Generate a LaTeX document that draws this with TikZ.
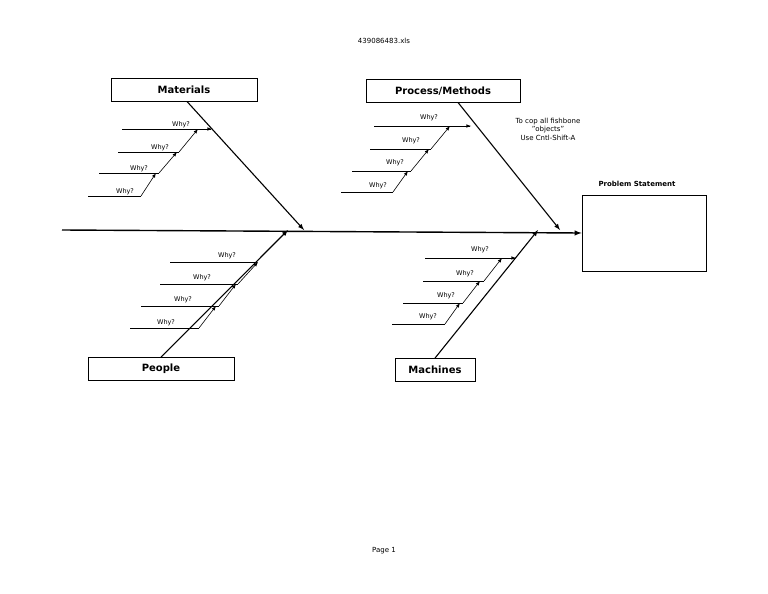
\documentclass[tikz,border=0pt]{standalone}
\usepackage{fontspec}
\setmainfont{DejaVu Sans}
\begin{document}
\begin{tikzpicture}[x=1pt,y=-1pt,
  box/.style={draw,line width=0.8pt,minimum height=23pt,font=\fontsize{10}{12}\selectfont\bfseries,inner sep=0pt},
  bone/.style={line width=1.1pt,-latex},
  why/.style={line width=0.6pt},
  wa/.style={line width=0.6pt,-latex},
  wt/.style={font=\fontsize{6.5}{8}\selectfont,anchor=south,inner sep=1pt}]
\useasboundingbox (0,0) rectangle (768,594);
\node[font=\fontsize{7}{9}\selectfont] (title) at (384,41) {439086483.xls};
\node[font=\fontsize{7}{9}\selectfont] (page) at (384,551) {Page 1};
% spine
\coordinate (s0) at (62,230);
\node[draw,line width=0.8pt,minimum width=124pt,minimum height=76pt] (ps) at (644,233) {};
\node[font=\fontsize{7}{9}\selectfont\bfseries] (pst) at (637,184) {Problem Statement};
\draw[line width=1.4pt,-latex] (s0) -- (ps.west);
\node[font=\fontsize{7}{8.5}\selectfont,align=center] (note) at (548,129) {To cop all fishbone\\"objects"\\Use Cntl-Shift-A};
% boxes
\node[box,minimum width=146pt] (mat) at (184,90) {Materials};
\node[box,minimum width=154pt] (proc) at (443,91) {Process/Methods};
\node[box,minimum width=146pt] (peo) at (161,369) {People};
\node[box,minimum width=80pt] (mac) at (435,370) {Machines};
\coordinate (mj) at (304,230); \coordinate (pj) at (560,230);
\coordinate (ej) at (288,230); \coordinate (cj) at (538,230);
\draw[bone] (187,101.5) -- (mj);
\draw[bone] (458,102.5) -- (pj);
\draw[bone] (peo.north) -- (ej);
\draw[bone] (mac.north) -- (cj);
% Materials whys
\draw[why] (122,129) -- (211,129); \draw[why] (118,152) -- (179,152);
\draw[why] (99,173) -- (159,173); \draw[why] (88,196) -- (141,196);
\draw[wa] (141,196) -- (156,173); \draw[wa] (159,173) -- (177,152); \draw[wa] (179,152) -- (198,129);
\draw[-latex,line width=0.6pt] (200,129) -- (212,129);
\node[wt] at (181,129) {Why?}; \node[wt] at (160,152) {Why?};
\node[wt] at (139,173) {Why?}; \node[wt] at (125,196) {Why?};
% Process whys
\draw[why] (374,126) -- (470,126); \draw[why] (370,149) -- (431,149);
\draw[why] (352,171) -- (411,171); \draw[why] (341,192) -- (393,192);
\draw[wa] (393,192) -- (408,171); \draw[wa] (411,171) -- (429,149); \draw[wa] (431,149) -- (450,126);
\draw[-latex,line width=0.6pt] (455,126) -- (471,126);
\node[wt] at (429,122) {Why?}; \node[wt] at (411,145) {Why?};
\node[wt] at (395,167) {Why?}; \node[wt] at (378,190) {Why?};
% People whys
\draw[why] (170,262) -- (257,262); \draw[why] (160,284) -- (238,284);
\draw[why] (141,306) -- (219,306); \draw[why] (130,328) -- (199,328);
\draw[wa] (199,328) -- (216,306); \draw[wa] (219,306) -- (236,284); \draw[wa] (238,284) -- (258,262);
\node[wt] at (227,260) {Why?}; \node[wt] at (202,282) {Why?};
\node[wt] at (183,304) {Why?}; \node[wt] at (166,327) {Why?};
% Machines whys
\draw[why] (425,258) -- (515,258); \draw[why] (423,281) -- (484,281);
\draw[why] (403,303) -- (463,303); \draw[why] (392,324) -- (445,324);
\draw[wa] (445,324) -- (460,303); \draw[wa] (463,303) -- (480,281); \draw[wa] (484,281) -- (502,258);
\draw[-latex,line width=0.6pt] (505,258) -- (516,258);
\node[wt] at (480,254) {Why?}; \node[wt] at (465,278) {Why?};
\node[wt] at (446,300) {Why?}; \node[wt] at (428,321) {Why?};
\end{tikzpicture}
\end{document}
